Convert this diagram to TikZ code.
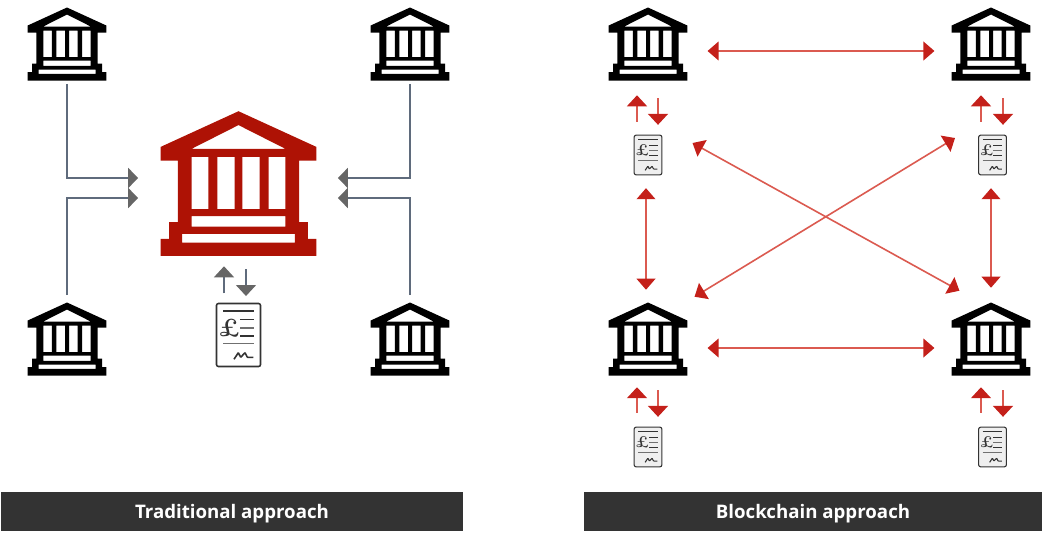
\documentclass[tikz,border=0pt]{standalone}
\usepackage{fontspec}
\usetikzlibrary{arrows.meta}
\newfontfamily\barfont{Open Sans}
\definecolor{bankred}{HTML}{AE1205}
\definecolor{barfill}{HTML}{333333}
\definecolor{feedline}{HTML}{5F6B7C}
\definecolor{feedtip}{HTML}{666666}
\definecolor{linkline}{HTML}{DB5A50}
\definecolor{linktip}{HTML}{C4201A}
\definecolor{paperline}{HTML}{333333}
\definecolor{papergrey}{HTML}{EFEFEF}
\tikzset{
    bank/.pic={
        \fill[even odd rule] (0, -36.5) -- (39.3, -18.5) -- (39.3, -11.5) -- (30.6, -11.5) -- (30.6, 19.5) -- (35, 19.5) -- (35, 28) -- (39.3, 28) -- (39.3, 36.5)
            -- (-39.3, 36.5) -- (-39.3, 28) -- (-35, 28) -- (-35, 19.5) -- (-30.6, 19.5) -- (-30.6, -11.5) -- (-39.3, -11.5) -- (-39.3, -18.5) -- cycle
            (0, -29.5) -- (23.7, -17.5) -- (-23.7, -17.5) -- cycle
            (-23.7, -13.5) rectangle (-15.2, 13)
            (-10.7, -13.5) rectangle (-2, 13)
            (2, -13.5) rectangle (10.7, 13)
            (15.2, -13.5) rectangle (23.7, 13)
            (-23.7, 16.5) rectangle (23.7, 21.8)
            (-28.5, 25.5) rectangle (28.5, 29.8);
        \node[transform shape, inner sep=0pt, minimum width=58.95pt, minimum height=54.75pt] (-box) at (0, 0) {};
    },
    doc/.pic={
        \draw[pic actions, draw=paperline, rounded corners=1.5pt] (-22, -31.5) rectangle (22, 31.5);
        \draw[paperline] (-15.5, -24) -- (15.5, -24);
        \draw[paperline] (1.5, -15.7) -- (15.5, -15.7);
        \draw[paperline!70] (1.5, -7.3) -- (15.5, -7.3);
        \draw[paperline] (1.5, 0.7) -- (15.5, 0.7);
        \draw[paperline!70] (-15.5, 8.3) -- (15.5, 8.3);
        \draw[paperline, rounded corners=0.4pt] (-4.5, 24.3) -- (-0.2, 17.7) -- (2.2, 22.3) -- (6.5, 17.7) -- (8.8, 22.3) -- (14.8, 22.3);
        \node[transform shape, inner sep=0pt, text=paperline, font=\bfseries\fontsize{19}{19}\selectfont] (-sign) at (-9, -7) {£};
        \node[transform shape, inner sep=0pt, minimum width=33.75pt, minimum height=47.25pt] (-box) at (0, 0) {};
    }
}
\begin{document}
\begin{tikzpicture}[x=0.75pt, y=-0.75pt]
    \tikzstyle{feed} = [draw=feedline, line width=1pt, -{Triangle[length=7.5pt, width=15pt, color=feedtip]}]
    \tikzstyle{feedup} = [draw=feedline, line width=1pt, -{Triangle[length=8.25pt, width=15pt, color=feedtip]}]
    \tikzstyle{req} = [draw=linkline, line width=1.2pt, -{Triangle[length=8.25pt, width=15pt, color=linktip]}]
    \tikzstyle{link} = [draw=linkline, line width=1.2pt, {Triangle[length=8.25pt, width=14pt, color=linktip]}-{Triangle[length=8.25pt, width=14pt, color=linktip]}]
    \tikzstyle{bar} = [fill=barfill, text=white, inner sep=0pt, minimum height=29.25pt, text height=11pt, text depth=0pt, font=\barfont\bfseries\fontsize{14}{14}\selectfont]
    \useasboundingbox (0, 0) rectangle (1042, 539);

    \pic (bankA) at (67, 44) {bank};
    \pic (bankB) at (410, 44) {bank};
    \pic (bankC) at (67, 339) {bank};
    \pic (bankD) at (410, 339) {bank};
    \pic[scale=1.98, color=bankred] (central) at (238.5, 183.5) {bank};
    \pic[fill=white, line width=1.2pt] (ledger) at (238.5, 335) {doc};

    \coordinate (inA) at ([shift={(-22, -5.5)}]central-box.west);
    \coordinate (inC) at ([shift={(-22, 14.5)}]central-box.west);
    \coordinate (inB) at ([shift={(21, -5.5)}]central-box.east);
    \coordinate (inD) at ([shift={(21, 14.5)}]central-box.east);
    \draw[feed] ([shift={(0, 3)}]bankA-box.south) |- (inA);
    \draw[feed] ([shift={(0, -7)}]bankC-box.north) |- (inC);
    \draw[feed] ([shift={(0, 3)}]bankB-box.south) |- (inB);
    \draw[feed] ([shift={(0, -7)}]bankD-box.north) |- (inD);
    \draw[feedup, shorten <=7pt, shorten >=7.5pt] ([shift={(-14.5, 0)}]ledger-box.north) -- ([shift={(-14.5, 0)}]central-box.south);
    \draw[feedup, shorten <=9.75pt, shorten >=5pt] ([shift={(7.5, 0)}]central-box.south) -- ([shift={(7.5, 0)}]ledger-box.north);

    \pic (nodeA) at (648, 44) {bank};
    \pic (nodeB) at (991, 44) {bank};
    \pic (nodeC) at (648, 339) {bank};
    \pic (nodeD) at (991, 339) {bank};
    \pic[scale=0.63, fill=papergrey, line width=0.8pt] (docA) at (648, 155) {doc};
    \pic[scale=0.63, fill=papergrey, line width=0.8pt] (docB) at (992.5, 155) {doc};
    \pic[scale=0.63, fill=papergrey, line width=0.8pt] (docC) at (648, 447) {doc};
    \pic[scale=0.63, fill=papergrey, line width=0.8pt] (docD) at (992.5, 447) {doc};

    \draw[req, shorten <=9.75pt, shorten >=10.9pt] ([shift={(-11, 0)}]docA-box.north) -- ([shift={(-11, 0)}]nodeA-box.south);
    \draw[req, shorten <=13pt, shorten >=7.5pt] ([shift={(10, 0)}]nodeA-box.south) -- ([shift={(10, 0)}]docA-box.north);
    \draw[req, shorten <=9.75pt, shorten >=10.9pt] ([shift={(-11.5, 0)}]docB-box.north) -- ([shift={(-10, 0)}]nodeB-box.south);
    \draw[req, shorten <=13pt, shorten >=7.5pt] ([shift={(12, 0)}]nodeB-box.south) -- ([shift={(10.5, 0)}]docB-box.north);
    \draw[req, shorten <=10.5pt, shorten >=8.6pt] ([shift={(-11, 0)}]docC-box.north) -- ([shift={(-11, 0)}]nodeC-box.south);
    \draw[req, shorten <=10.9pt, shorten >=7.5pt] ([shift={(10, 0)}]nodeC-box.south) -- ([shift={(10, 0)}]docC-box.north);
    \draw[req, shorten <=10.5pt, shorten >=8.6pt] ([shift={(-11.5, 0)}]docD-box.north) -- ([shift={(-10, 0)}]nodeD-box.south);
    \draw[req, shorten <=10.9pt, shorten >=7.5pt] ([shift={(12, 0)}]nodeD-box.south) -- ([shift={(10.5, 0)}]docD-box.north);

    \draw[link] ([shift={(20, 7)}]nodeA-box.east) -- ([shift={(-17, 7)}]nodeB-box.west);
    \draw[link] ([shift={(20, 9)}]nodeC-box.east) -- ([shift={(-17, 9)}]nodeD-box.west);
    \draw[link] ([shift={(-2, 13)}]docA-box.south) -- ([shift={(-2, -12.5)}]nodeC-box.north);
    \draw[link] ([shift={(-1.5, 13)}]docB-box.south) -- ([shift={(0, -14.5)}]nodeD-box.north);
    \draw[link] ([shift={(30, -12)}]docA-box.east) -- ([shift={(8, -11.5)}]nodeD-box.north west);
    \draw[link] ([shift={(-23, -17)}]docB-box.west) -- ([shift={(7, -5.5)}]nodeC-box.north east);

    \node[bar, minimum width=346.5pt] (barLeft) at (232, 511) {Traditional approach};
    \node[bar, minimum width=343.5pt] (barRight) at (813, 511) {Blockchain approach};
\end{tikzpicture}
\end{document}
